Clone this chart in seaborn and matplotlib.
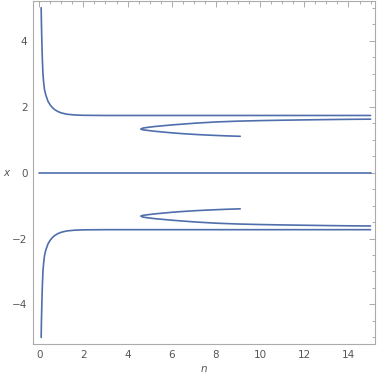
import numpy as np
import matplotlib
matplotlib.use("Agg")
import matplotlib.pyplot as plt
import seaborn as sns
from matplotlib.ticker import MultipleLocator

# Upper outer branch (n, x)
outer_n = [0.09, 0.10, 0.12, 0.14, 0.17, 0.20, 0.24, 0.30, 0.40, 0.50, 0.60, 0.70,
           0.85, 1.00, 1.25, 1.60, 2.00, 3.00, 15.0]
outer_x = [5.0, 4.55, 4.0, 3.5, 3.0, 2.75, 2.52, 2.35, 2.16, 2.05, 1.97, 1.91,
           1.85, 1.81, 1.77, 1.748, 1.737, 1.732, 1.732]

# Inner loop branch (n, x), traced from n=15 through the tip to the free end
loop_n = [15.0, 14.0, 13.0, 12.0, 11.0, 10.0, 9.0, 8.0, 7.1, 6.5, 6.0, 5.6, 5.2, 4.9,
          4.7, 4.6, 4.7, 4.9, 5.2, 5.6, 6.0, 6.5, 7.1, 7.7, 8.4, 9.1]
loop_x = [1.62, 1.615, 1.607, 1.598, 1.588, 1.576, 1.56, 1.535, 1.50, 1.47, 1.445, 1.42, 1.395, 1.37,
          1.35, 1.32, 1.297, 1.28, 1.255, 1.23, 1.205, 1.18, 1.155, 1.135, 1.115, 1.10]

# Zero branch
zero_n = [0.0, 15.0]
zero_x = [0.0, 0.0]

xticks = [0, 2, 4, 6, 8, 10, 12, 14]
yticks = [-4, -2, 0, 2, 4]

color = "#4F6EAB"

sns.set_style("white")
fig = plt.figure(figsize=(3.78, 3.77), dpi=100)
ax = fig.add_axes([0.0873, 0.0875, 0.9047, 0.9095])

for sgn in (1, -1):
    sns.lineplot(x=outer_n, y=[sgn * v for v in outer_x], sort=False, estimator=None,
                 color=color, lw=1.2, ax=ax)
    sns.lineplot(x=loop_n, y=[sgn * v for v in loop_x], sort=False, estimator=None,
                 color=color, lw=1.2, ax=ax)
sns.lineplot(x=zero_n, y=zero_x, sort=False, estimator=None, color=color, lw=1.2, ax=ax)

ax.set_xlim(-0.28, 15.2)
ax.set_ylim(-5.2, 5.2)
ax.set_xticks(xticks)
ax.set_yticks(yticks)
ax.set_xticklabels([str(t) for t in xticks])
ax.set_yticklabels([str(t).replace("-", "\u2212") for t in yticks])
ax.xaxis.set_minor_locator(MultipleLocator(0.5))
ax.yaxis.set_minor_locator(MultipleLocator(0.5))

frame_c = "#ABABAB"
for s in ax.spines.values():
    s.set_color(frame_c)
    s.set_linewidth(0.8)
ax.tick_params(which="both", direction="in", top=True, right=True, color=frame_c,
               labelcolor="#555555", labelsize=7.5, width=0.7)
ax.tick_params(which="major", length=4, pad=4)
ax.tick_params(which="minor", length=2)

ax.set_xlabel("n", fontstyle="italic", color="#555555", fontsize=7.5, labelpad=3)
ax.set_ylabel("x", fontstyle="italic", color="#555555", fontsize=7.5,
              rotation=0, ha="center", va="center")
ax.yaxis.set_label_coords(-0.079, 0.5)

fig.savefig("out.png", dpi=100)
